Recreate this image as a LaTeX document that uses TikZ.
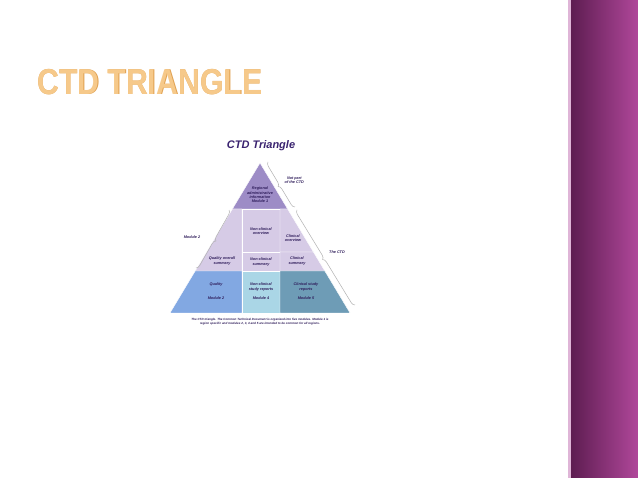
\documentclass[tikz,border=0pt]{standalone}
\usepackage{fontspec}
\setmainfont{Liberation Sans}
\usetikzlibrary{decorations.pathreplacing}
\definecolor{bandA}{HTML}{5A1B4E}
\definecolor{bandB}{HTML}{B0479A}
\definecolor{topc}{HTML}{9D8CC6}
\definecolor{midc}{HTML}{D6CBE6}
\definecolor{qc}{HTML}{82A8E2}
\definecolor{nc}{HTML}{AAD6E6}
\definecolor{cc}{HTML}{6E9CB6}
\definecolor{ttl}{HTML}{3A2370}
\definecolor{orl}{HTML}{F6C98A}
\definecolor{ord}{HTML}{E0A050}
\tikzset{
 lbl/.style={font=\fontsize{3.8}{4.4}\selectfont\bfseries\itshape, text=ttl!80!black, align=center, inner sep=0.5pt},
 cell/.style={draw=white, line width=0.4pt},
 brc/.style={draw=gray!60, decorate, decoration={brace, amplitude=4pt, mirror}, line width=0.5pt},
 big/.style={anchor=west, font=\fontsize{36}{36}\selectfont\bfseries, inner sep=0, xscale=0.84}
}
\begin{document}
\begin{tikzpicture}[x=1pt,y=-1pt]
\useasboundingbox (0,0) rectangle (638,478);
\fill[white] (0,0) rectangle (638,478);
\shade[left color=bandA, right color=bandB] (568,0) rectangle (638,478);
\fill[bandB!40] (568,0) rectangle (571,478);
% title
\node[big, text=ord] (titleb) at (37.6,82.6) {CTD TRIANGLE};
\node[big, text=orl] (title) at (37,82) {CTD TRIANGLE};
\node[font=\fontsize{11}{11}\selectfont\bfseries\itshape, text=ttl] (sub) at (261,146) {CTD Triangle};
% cells
\fill[topc,cell] (260,163) -- (287.6,209) -- (232.4,209) -- cycle;
\fill[midc,cell] (232.4,209) -- (242,209) -- (242,271) -- (195.2,271) -- cycle;
\fill[midc,cell] (242,209) rectangle (280,252);
\fill[midc,cell] (242,252) rectangle (280,271);
\fill[midc,cell] (280,209) -- (287.6,209) -- (313.4,252) -- (280,252) -- cycle;
\fill[midc,cell] (280,252) -- (313.4,252) -- (324.8,271) -- (280,271) -- cycle;
\fill[qc,cell] (195.2,271) -- (242,271) -- (242,313) -- (170,313) -- cycle;
\fill[nc,cell] (242,271) rectangle (280,313);
\fill[cc,cell] (280,271) -- (324.8,271) -- (350,313) -- (280,313) -- cycle;
% labels
\node[lbl] (m1) at (260,195) {Regional\\administrative\\information\\Module 1};
\node[lbl] (nco) at (261,231) {Non-clinical\\overview};
\node[lbl] (co) at (293,238) {Clinical\\overview};
\node[lbl] (qos) at (222,261) {Quality overall\\summary};
\node[lbl] (ncs) at (261,262) {Non-clinical\\summary};
\node[lbl] (cs) at (297,261) {Clinical\\summary};
\node[lbl] (q) at (216,285) {Quality};
\node[lbl] (m2) at (216,298) {Module 2};
\node[lbl] (ncr) at (261,287) {Non-clinical\\study reports};
\node[lbl] (m4) at (261,298) {Module 4};
\node[lbl] (csr) at (306,287) {Clinical study\\reports};
\node[lbl] (m5) at (306,298) {Module 5};
% braces
\coordinate (b1a) at (268,162); \coordinate (b1b) at (295,207);
\draw[brc] (b1a) -- (b1b);
\coordinate (b2a) at (297,210); \coordinate (b2b) at (355,305);
\draw[brc] (b2a) -- (b2b);
\coordinate (b3a) at (196,268); \coordinate (b3b) at (229,210);
\draw[brc] (b3a) -- (b3b);
\node[lbl, anchor=west] (np) at (284,180) {Not part\\of the CTD};
\node[lbl] (tc) at (337,252) {The CTD};
\node[lbl] (md2) at (192,237) {Module 2};
\node[font=\fontsize{3}{3.6}\selectfont\bfseries\itshape, text=ttl!80!black, align=center] (cap) at (260,322) {The CTD triangle. The Common Technical Document is organized into five modules. Module 1 is\\region specific and modules 2, 3, 4 and 5 are intended to be common for all regions.};
\end{tikzpicture}
\end{document}
